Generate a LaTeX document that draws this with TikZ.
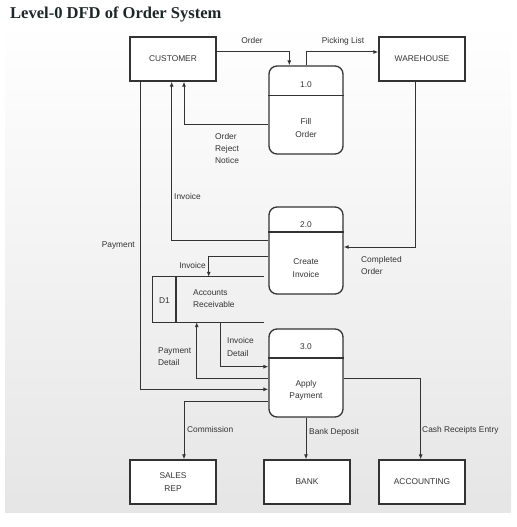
\documentclass[tikz,border=0pt]{standalone}
\usepackage{fontspec}
\setmainfont{Liberation Sans}
\newfontfamily\titlefont{Liberation Serif}
\usetikzlibrary{arrows.meta}
\definecolor{ink}{HTML}{333333}
\definecolor{titleink}{HTML}{1E2626}
\begin{document}
\begin{tikzpicture}[x=1bp,y=-1bp,
  every node/.style={font=\fontsize{8.4}{12.3}\selectfont, text=ink, inner sep=0pt},
  ent/.style={draw=ink, line width=1.3bp, fill=white, minimum width=86bp, minimum height=44bp, align=center},
  proc/.style={draw=ink, line width=1.3bp, fill=white, rounded corners=8bp, minimum width=74bp, minimum height=88bp},
  boxline/.style={draw=ink, line width=1.3bp},
  flow/.style={draw=ink, line width=1bp, -{Latex[length=5bp,width=4bp]}},
  lbl/.style={align=left},
  ptxt/.style={align=center}
]
\useasboundingbox (0,0) rectangle (517,527);
\shade[top color=white, bottom color=black!10] (5,22) rectangle (511,512);
\node[anchor=base west, font=\titlefont\bfseries\fontsize{16.6}{18}\selectfont, text=titleink] (title) at (10,18.5) {Level-0 DFD of Order System};

% entities
\node[ent] (cust) at (173,59) {CUSTOMER};
\node[ent] (wh) at (422,59) {WAREHOUSE};
\node[ent] (sales) at (173,482) {SALES\\REP};
\node[ent] (bank) at (307,482) {BANK};
\node[ent] (acct) at (422,482) {ACCOUNTING};

% processes
\node[proc] (p1) at (306,110) {};
\node[proc, minimum height=87bp] (p2) at (306,250.5) {};
\node[proc] (p3) at (306,373) {};
\draw[boxline] (p1.west |- 0,95.7) -- (p1.east |- 0,95.7);
\draw[boxline] (p2.west |- 0,232) -- (p2.east |- 0,232);
\draw[boxline] (p3.west |- 0,358) -- (p3.east |- 0,358);
\node[ptxt] (p1n) at (306,85) {1.0};
\node[ptxt] (p1t) at (306,128) {Fill\\Order};
\node[ptxt] (p2n) at (306,225) {2.0};
\node[ptxt] (p2t) at (306,268) {Create\\Invoice};
\node[ptxt] (p3n) at (306,347) {3.0};
\node[ptxt] (p3t) at (306,390) {Apply\\Payment};

% data store
\node[minimum width=111bp, minimum height=45bp] (ds) at (208.5,299.5) {};
\draw[boxline] (ds.north east) -- (ds.north west) -- (ds.south west) -- (ds.south east);
\draw[boxline] (ds.north -| 176,0) -- (ds.south -| 176,0);
\node (dsid) at (164.5,301) {D1};
\node[lbl, anchor=west] (dsname) at (193,299) {Accounts\\Receivable};

% flows
\draw[flow] (cust.east |- 0,51.7) -| (p1.north -| 289.3,0);
\draw[flow] (p1.north) |- (wh.west |- 0,52);
\draw[flow] (p1.west |- 0,125) -| (cust.south -| 184,0);
\draw[flow] (p2.west |- 0,240.7) -| (cust.south -| 171.7,0);
\draw[flow] (wh.south -| 415.7,0) |- (p2.east |- 0,247);
\draw[flow] (p2.west |- 0,256) -| (ds.north -| 208.7,0);
\draw[flow] (ds.south -| 220.3,0) |- (p3.west |- 0,366.7);
\draw[flow] (p3.west |- 0,378.7) -| (ds.south -| 196.7,0);
\draw[flow] (cust.south -| 140.3,0) |- (p3.west |- 0,389.3);
\draw[flow] (p3.west |- 0,401.7) -| (sales.north -| 184,0);
\draw[flow] (p3.south) -- (p3.south |- bank.north);
\draw[flow] (p3.east |- 0,378.7) -| (acct.north -| 420.7,0);

% labels
\node (lorder) at (252,41) {Order};
\node (lpick) at (343,41) {Picking List};
\node[lbl, anchor=west] (lrej) at (215,148.5) {Order\\Reject\\Notice};
\node[anchor=west] (linv1) at (174,197) {Invoice};
\node[lbl, anchor=west] (lcomp) at (361,265.5) {Completed\\Order};
\node[anchor=east] (linv2) at (206,266) {Invoice};
\node[lbl, anchor=west] (lidet) at (227,347) {Invoice\\Detail};
\node[lbl, anchor=west] (lpdet) at (158,357) {Payment\\Detail};
\node[anchor=east] (lpay) at (135,245) {Payment};
\node[anchor=west] (lcomm) at (187,430) {Commission};
\node[anchor=west] (lbank) at (309,432) {Bank Deposit};
\node[anchor=west] (lcash) at (422,430) {Cash Receipts Entry};
\end{tikzpicture}
\end{document}
